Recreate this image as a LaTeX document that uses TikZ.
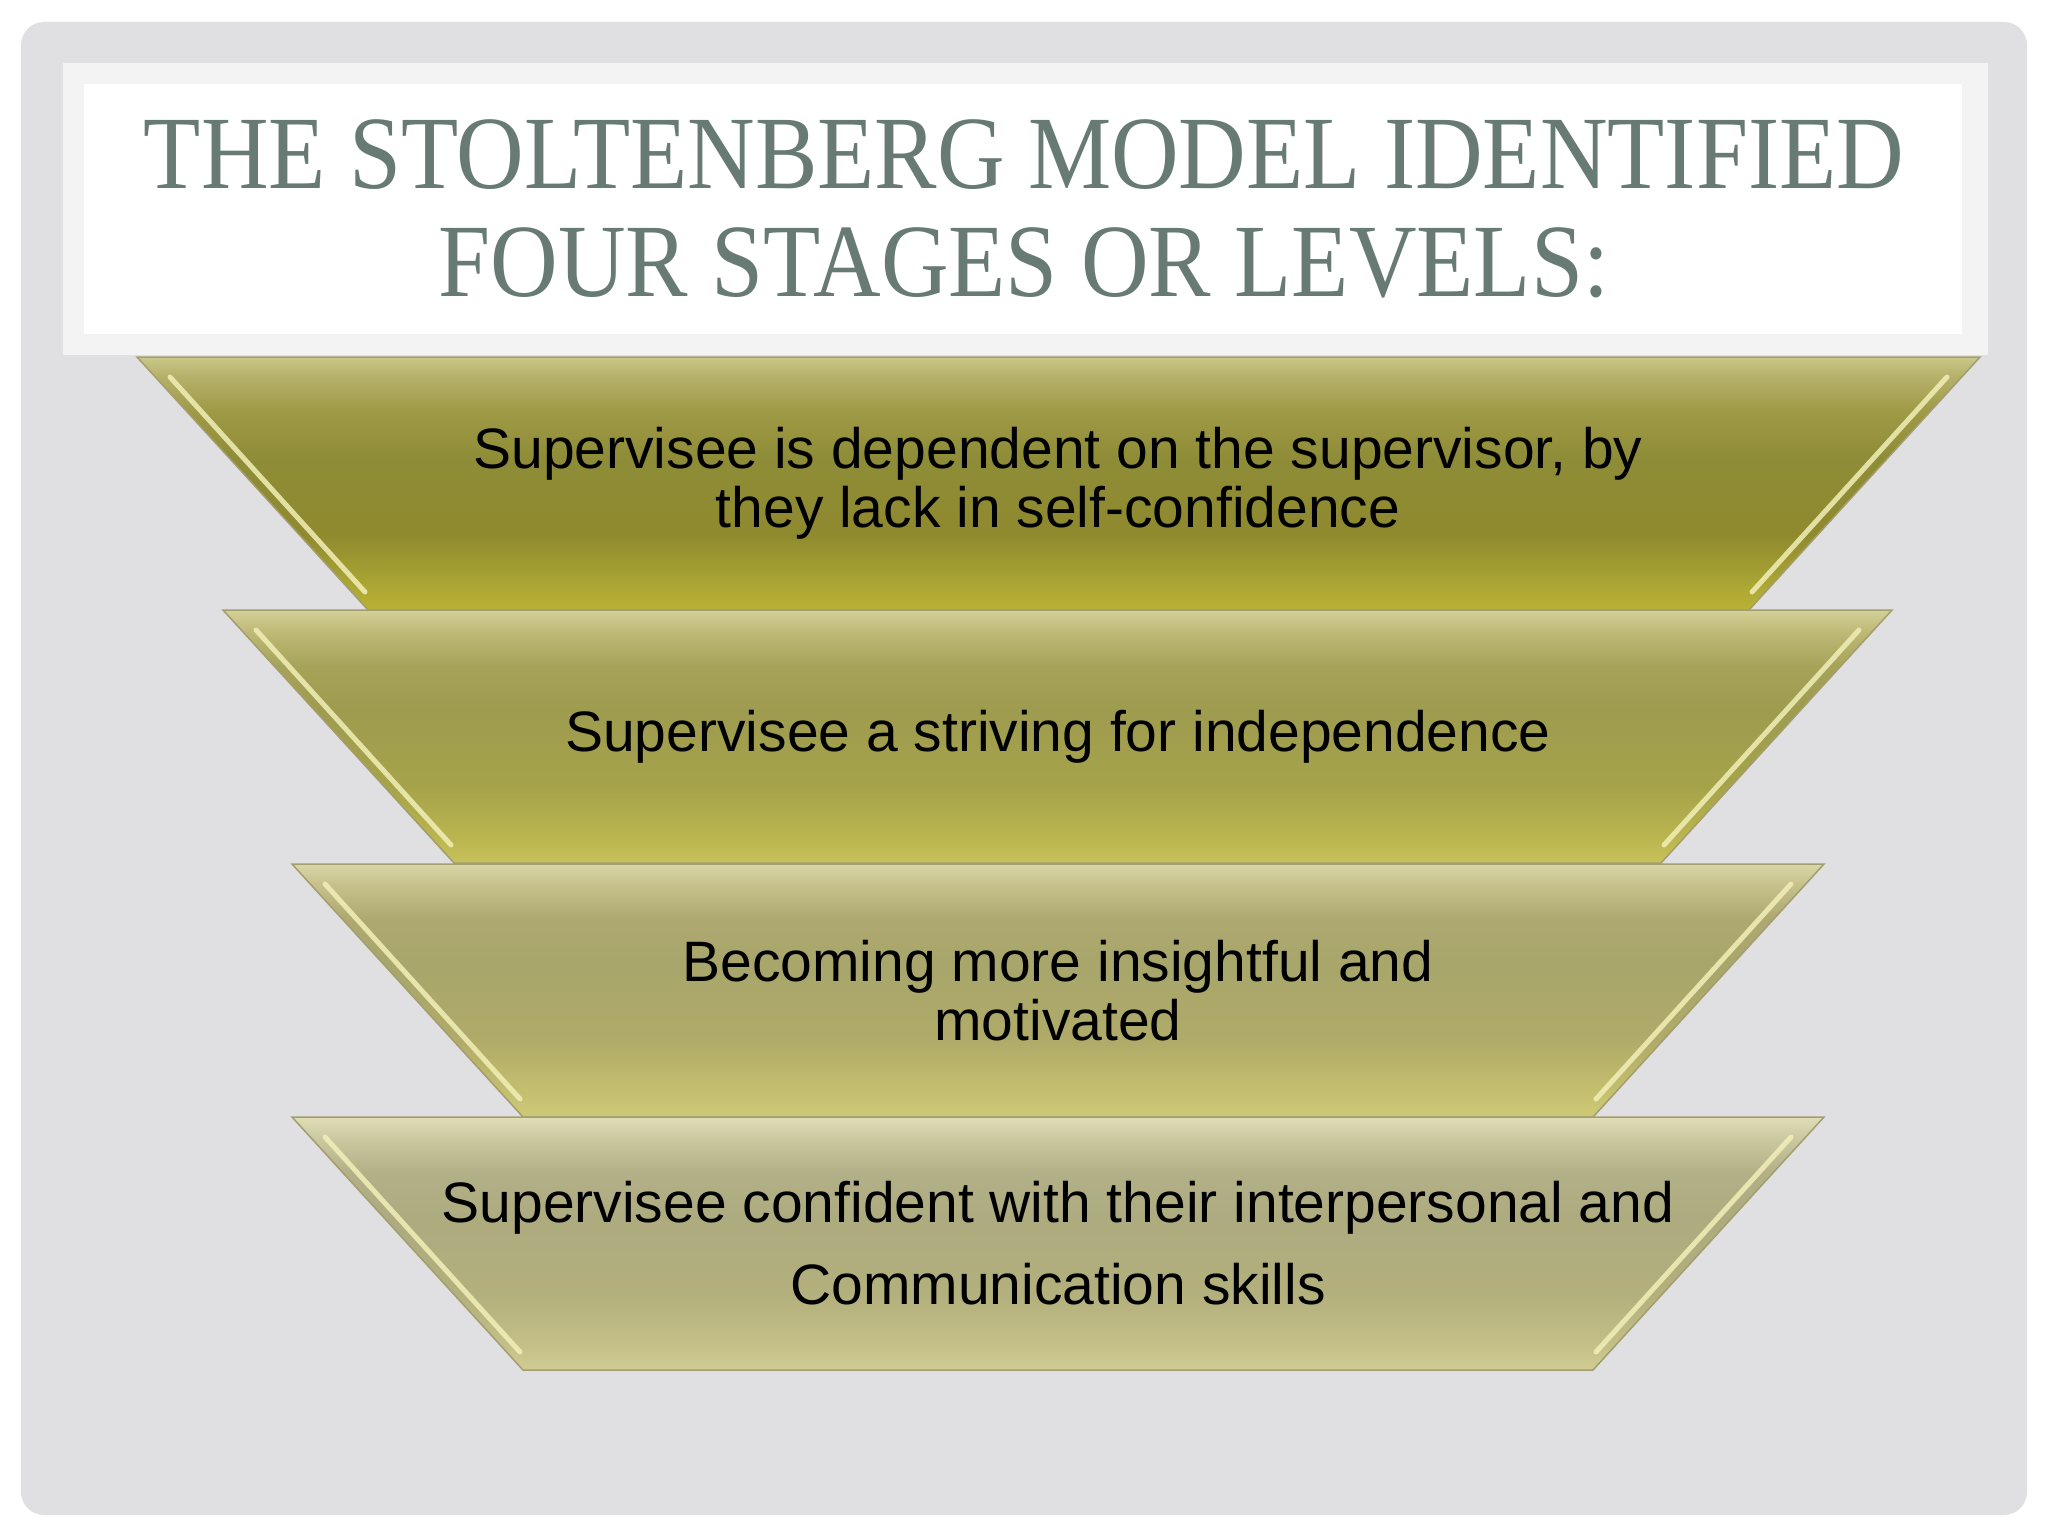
\documentclass[tikz,border=0pt]{standalone}
\usepackage{fontspec}
\usepackage{tikz}
\usetikzlibrary{calc}
\setmainfont{Liberation Serif}
\newfontfamily\titlefont[FakeStretch=0.9]{Liberation Serif}
\newfontfamily\bodyfont{Liberation Sans}
\definecolor{pagebg}{HTML}{E0DFE1}
\definecolor{titleframe}{HTML}{F3F3F3}
\definecolor{titlegray}{HTML}{687A74}
\definecolor{edgeolive}{HTML}{A29E70}
\definecolor{glint}{HTML}{F2EFB8}
% one vertical shading per stage (0bp = bottom)
\pgfdeclareverticalshading{stageone}{100bp}{rgb(0bp)=(0.73,0.70,0.21); rgb(25bp)=(0.73,0.70,0.21);
  rgb(31bp)=(0.66,0.64,0.20); rgb(40bp)=(0.56,0.54,0.18); rgb(55bp)=(0.56,0.55,0.22);
  rgb(64bp)=(0.62,0.60,0.27); rgb(71bp)=(0.71,0.69,0.41); rgb(75bp)=(0.79,0.78,0.54); rgb(100bp)=(0.79,0.78,0.54)}
\pgfdeclareverticalshading{stagetwo}{100bp}{rgb(0bp)=(0.78,0.76,0.35); rgb(25bp)=(0.78,0.76,0.35);
  rgb(30bp)=(0.73,0.71,0.31); rgb(40bp)=(0.65,0.64,0.29); rgb(55bp)=(0.62,0.61,0.31);
  rgb(64bp)=(0.65,0.64,0.35); rgb(71bp)=(0.75,0.73,0.47); rgb(75bp)=(0.83,0.82,0.60); rgb(100bp)=(0.83,0.82,0.60)}
\pgfdeclareverticalshading{stagethree}{100bp}{rgb(0bp)=(0.81,0.79,0.47); rgb(25bp)=(0.81,0.79,0.47);
  rgb(30bp)=(0.77,0.75,0.43); rgb(40bp)=(0.69,0.67,0.41); rgb(55bp)=(0.66,0.65,0.42);
  rgb(64bp)=(0.68,0.66,0.44); rgb(71bp)=(0.78,0.76,0.55); rgb(75bp)=(0.85,0.84,0.66); rgb(100bp)=(0.85,0.84,0.66)}
\pgfdeclareverticalshading{stagefour}{100bp}{rgb(0bp)=(0.82,0.80,0.58); rgb(25bp)=(0.82,0.80,0.58);
  rgb(30bp)=(0.77,0.75,0.53); rgb(40bp)=(0.70,0.69,0.49); rgb(55bp)=(0.68,0.67,0.50);
  rgb(64bp)=(0.70,0.69,0.53); rgb(71bp)=(0.80,0.79,0.63); rgb(75bp)=(0.88,0.87,0.72); rgb(100bp)=(0.88,0.87,0.72)}
\tikzset{
  titletext/.style={
    align=center, text=titlegray,
    font=\titlefont\fontsize{104}{108}\selectfont,
  },
  glintline/.style={glint, line width=5pt, line cap=round, opacity=0.85},
  stagefill/.style={
    draw=edgeolive, line width=1.5pt,
    path picture={
      \draw[glintline] ($(path picture bounding box.north west)+(33,20)$) -- ($(path picture bounding box.south west)+(228,-18)$);
      \draw[glintline] ($(path picture bounding box.north east)+(-33,20)$) -- ($(path picture bounding box.south east)+(-228,-18)$);
    },
  },
  stagetext/.style={
    align=center, text=black, inner sep=0pt,
    font=\bodyfont\fontsize{57}{59}\selectfont,
  },
}

\begin{document}
\begin{tikzpicture}[x=1pt, y=-1pt]

  \useasboundingbox (0,0) rectangle (2048,1536);
  \fill[white] (0,0) rectangle (2048,1536);
  \fill[pagebg, rounded corners=23pt] (21,22) rectangle (2027,1515);
  \fill[titleframe] (63,63) rectangle (1988,355);
  \fill[white] (84,84) rectangle (1962,334);

  \node[titletext] (title) at (1024,209) {THE STOLTENBERG MODEL IDENTIFIED\\FOUR STAGES OR LEVELS:};

  % stages: top edge, slanted sides inset by 231 over a height of 253
  \path[stagefill, shading=stageone]   (137,357)  -- (1980,357)  -- (1749,610)  -- (368,610)  -- cycle;
  \path[stagefill, shading=stagetwo]   (223,610)  -- (1892,610)  -- (1661,863)  -- (454,863)  -- cycle;
  \path[stagefill, shading=stagethree] (292,864)  -- (1824,864)  -- (1593,1117) -- (523,1117) -- cycle;
  \path[stagefill, shading=stagefour]  (292,1117) -- (1824,1117) -- (1593,1370) -- (523,1370) -- cycle;

  \node[stagetext] (lvl1) at (1058,483.5) {Supervisee is dependent on the supervisor, by\\they lack in self-confidence};
  \node[stagetext] (lvl2) at (1058,736.5) {Supervisee a striving for independence};
  \node[stagetext] (lvl3) at (1058,990.5) {Becoming more insightful and\\motivated};
  \node[stagetext, font=\bodyfont\fontsize{57}{82}\selectfont] (lvl4) at (1058,1243.5)
    {Supervisee confident with their interpersonal and\\Communication skills};

\end{tikzpicture}
\end{document}
